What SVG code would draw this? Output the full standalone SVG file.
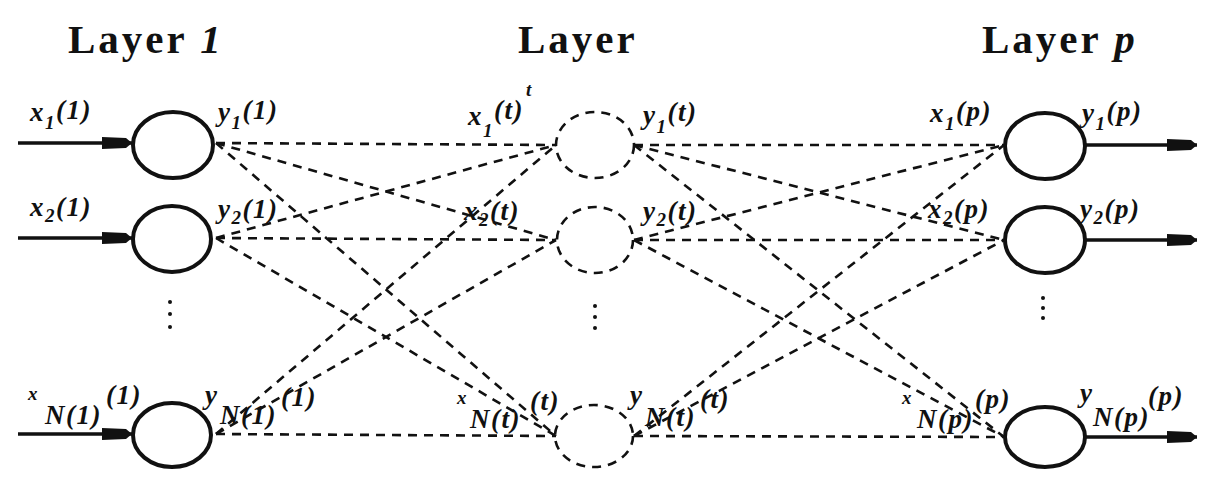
<svg xmlns="http://www.w3.org/2000/svg" width="1214" height="483" viewBox="0 0 1214 483">
<style>
.title{font-family:"Liberation Serif",serif;font-weight:bold;font-size:41px;letter-spacing:3px;fill:#111}
.lbl{font-family:"Liberation Serif",serif;font-weight:bold;font-style:italic;font-size:27px;letter-spacing:1.5px;fill:#111}
.sm{font-size:19px}
.node{fill:none;stroke:#111;stroke-width:4}
.hid{fill:none;stroke:#111;stroke-width:2.6;stroke-dasharray:9 7}
.dash{stroke:#111;stroke-width:2.6;stroke-dasharray:9 7;fill:none}
.arr{stroke:#111;stroke-width:3.5;fill:none}
.dot{fill:#111}
</style>
<defs>
<marker id="ah" markerUnits="userSpaceOnUse" markerWidth="32" markerHeight="16" viewBox="0 -8 32 16" refX="30" refY="0" orient="auto">
<polygon points="0,-6 24,-5 30,0 24,5 0,6" fill="#111"/>
</marker>
</defs>
<rect width="1214" height="483" fill="#fff"/>

<g id="titles">
<text class="title" x="68" y="53">Layer <tspan font-style="italic">1</tspan></text>
<text class="title" x="518" y="53">Layer</text>
<text class="lbl sm" x="526" y="96">t</text>
<text class="title" x="982" y="53">Layer <tspan font-style="italic">p</tspan></text>
</g>

<g id="connectors">
<!-- inputs -->
<line class="arr" x1="18" y1="143" x2="132" y2="143" marker-end="url(#ah)"/>
<line class="arr" x1="18" y1="238" x2="132" y2="238" marker-end="url(#ah)"/>
<line class="arr" x1="18" y1="434" x2="132" y2="434" marker-end="url(#ah)"/>
<!-- outputs -->
<line class="arr" x1="1086" y1="145" x2="1197" y2="145" marker-end="url(#ah)"/>
<line class="arr" x1="1086" y1="240" x2="1197" y2="240" marker-end="url(#ah)"/>
<line class="arr" x1="1086" y1="437" x2="1197" y2="437" marker-end="url(#ah)"/>
<!-- layer 1 to layer t -->
<line class="dash" x1="216" y1="143" x2="556" y2="145"/>
<line class="dash" x1="216" y1="143" x2="556" y2="240"/>
<line class="dash" x1="216" y1="143" x2="556" y2="436"/>
<line class="dash" x1="216" y1="238" x2="556" y2="145"/>
<line class="dash" x1="216" y1="238" x2="556" y2="240"/>
<line class="dash" x1="216" y1="238" x2="556" y2="436"/>
<line class="dash" x1="216" y1="434" x2="556" y2="145"/>
<line class="dash" x1="216" y1="434" x2="556" y2="240"/>
<line class="dash" x1="216" y1="434" x2="556" y2="436"/>
<!-- layer t to layer p -->
<line class="dash" x1="634" y1="145" x2="1004" y2="145"/>
<line class="dash" x1="634" y1="145" x2="1004" y2="240"/>
<line class="dash" x1="634" y1="145" x2="1004" y2="437"/>
<line class="dash" x1="634" y1="240" x2="1004" y2="145"/>
<line class="dash" x1="634" y1="240" x2="1004" y2="240"/>
<line class="dash" x1="634" y1="240" x2="1004" y2="437"/>
<line class="dash" x1="634" y1="436" x2="1004" y2="145"/>
<line class="dash" x1="634" y1="436" x2="1004" y2="240"/>
<line class="dash" x1="634" y1="436" x2="1004" y2="437"/>
</g>

<g id="node-1-1"><ellipse class="node" cx="173" cy="145" rx="40" ry="33"/></g>
<g id="node-1-2"><ellipse class="node" cx="172" cy="239" rx="39" ry="33"/></g>
<g id="node-1-N"><ellipse class="node" cx="172" cy="435" rx="39" ry="32"/></g>
<g id="node-t-1"><ellipse class="hid" cx="595" cy="145" rx="39" ry="33"/></g>
<g id="node-t-2"><ellipse class="hid" cx="595" cy="240" rx="38" ry="33"/></g>
<g id="node-t-N"><ellipse class="hid" cx="594" cy="436" rx="39" ry="31"/></g>
<g id="node-p-1"><ellipse class="node" cx="1045" cy="146" rx="40" ry="33"/></g>
<g id="node-p-2"><ellipse class="node" cx="1045" cy="240" rx="40" ry="33"/></g>
<g id="node-p-N"><ellipse class="node" cx="1045" cy="437" rx="40" ry="30"/></g>

<g id="ellipsis">
<circle class="dot" cx="170" cy="302" r="2"/><circle class="dot" cx="170" cy="314" r="2"/><circle class="dot" cx="170" cy="327" r="2"/>
<circle class="dot" cx="595" cy="306" r="2"/><circle class="dot" cx="595" cy="317" r="2"/><circle class="dot" cx="595" cy="328" r="2"/>
<circle class="dot" cx="1043" cy="298" r="2"/><circle class="dot" cx="1043" cy="308" r="2"/><circle class="dot" cx="1043" cy="318" r="2"/>
</g>

<g id="labels">
<text class="lbl" x="30" y="121">x<tspan class="sm" dy="8">1</tspan><tspan dy="-10">(1)</tspan></text>
<text class="lbl" x="218" y="121">y<tspan class="sm" dy="8">1</tspan><tspan dy="-10">(1)</tspan></text>
<text class="lbl" x="468" y="125">x<tspan class="sm" dy="12">1</tspan><tspan dy="-18">(t)</tspan></text>
<text class="lbl" x="643" y="124">y<tspan class="sm" dy="9">1</tspan><tspan dy="-12">(t)</tspan></text>
<text class="lbl" x="930" y="122">x<tspan class="sm" dy="8">1</tspan><tspan dy="-10">(p)</tspan></text>
<text class="lbl" x="1082" y="122">y<tspan class="sm" dy="8">1</tspan><tspan dy="-10">(p)</tspan></text>

<text class="lbl" x="30" y="216">x<tspan class="sm" dy="6">2</tspan><tspan dy="-6">(1)</tspan></text>
<text class="lbl" x="218" y="218">y<tspan class="sm" dy="6">2</tspan><tspan dy="-6">(1)</tspan></text>
<text class="lbl" x="464" y="220">x<tspan class="sm" dy="6">2</tspan><tspan dy="-6">(t)</tspan></text>
<text class="lbl" x="643" y="220">y<tspan class="sm" dy="6">2</tspan><tspan dy="-6">(t)</tspan></text>
<text class="lbl" x="928" y="218">x<tspan class="sm" dy="6">2</tspan><tspan dy="-6">(p)</tspan></text>
<text class="lbl" x="1080" y="218">y<tspan class="sm" dy="6">2</tspan><tspan dy="-6">(p)</tspan></text>

<text class="lbl" x="28" y="400"><tspan class="sm">x</tspan><tspan x="45" y="424">N(1)</tspan><tspan x="106" y="404">(1)</tspan></text>
<text class="lbl" x="205" y="404"><tspan>y</tspan><tspan x="220" y="424">N(1)</tspan><tspan x="281" y="406">(1)</tspan></text>
<text class="lbl" x="457" y="404"><tspan class="sm">x</tspan><tspan x="470" y="428">N(t)</tspan><tspan x="530" y="410">(t)</tspan></text>
<text class="lbl" x="630" y="404"><tspan>y</tspan><tspan x="645" y="426">N(t)</tspan><tspan x="700" y="408">(t)</tspan></text>
<text class="lbl" x="902" y="404"><tspan class="sm">x</tspan><tspan x="917" y="428">N(p)</tspan><tspan x="975" y="408">(p)</tspan></text>
<text class="lbl" x="1080" y="402"><tspan>y</tspan><tspan x="1093" y="426">N(p)</tspan><tspan x="1148" y="405">(p)</tspan></text>
</g>
</svg>
